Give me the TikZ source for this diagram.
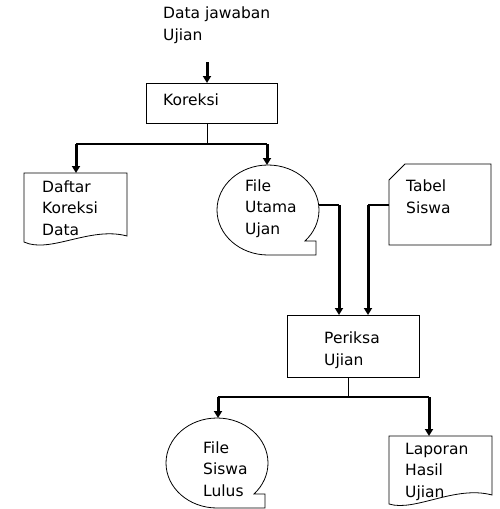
\documentclass[tikz,border=0pt]{standalone}
\usepackage{fontspec}
\setmainfont{DejaVu Sans}
\usetikzlibrary{arrows.meta}

\begin{document}
\begin{tikzpicture}[x=1pt,y=-1pt,
        lbl/.style={anchor=base west,align=left,inner sep=0pt,font=\fontsize{15.5}{21.5}\selectfont},
        procbox/.style={draw,line width=0.8pt,anchor=north west,inner sep=0pt},
        shp/.style={line width=0.8pt},
        link/.style={line width=1.3pt},
        flow/.style={-{Triangle[width=8pt,length=7pt]},line width=3pt}]
        \useasboundingbox (0,0) rectangle (500,509);

        % input (base = baris terakhir)
        \node[lbl] (dataTxt) at (163,40) {Data jawaban\\Ujian};

        % proses koreksi
        \node[procbox,minimum width=131pt,minimum height=40pt] (koreksi) at (146,83) {};
        \node[lbl] (koreksiTxt) at (163,105) {Koreksi};

        % dokumen daftar koreksi
        \draw[shp](24,173)--(127,173)--(127,236) .. controls (90,226) and (50,254) .. (24,242)--cycle;
        \coordinate (daftarTop) at (76,173);
        \node[lbl] (daftarTxt) at (42,235) {Daftar\\Koreksi\\Data};

        % file utama
        \draw[shp](268,255) arc[start angle=90,end angle=403.5,x radius=51,y radius=45]--(316,241)--(316,255)--cycle;
        \coordinate (utamaTop) at (267,165);
        \coordinate (utamaOut) at (319,205);
        \node[lbl] (utamaTxt) at (245,234) {File\\Utama\\Ujan};

        % tabel siswa
        \draw[shp](405,164)--(491,164)--(491,245)--(389,245)--(389,180)--cycle;
        \coordinate (tabelOut) at (389,205);
        \node[lbl] (tabelTxt) at (406,213) {Tabel\\Siswa};

        % proses periksa
        \node[procbox,minimum width=132pt,minimum height=62pt] (periksa) at (287,315) {};
        \node[lbl] (periksaTxt) at (324,365) {Periksa\\Ujian};

        % file siswa lulus
        \draw[shp](217,508) arc[start angle=90,end angle=403.5,x radius=51,y radius=45]--(265,494)--(265,508)--cycle;
        \coordinate (lulusTop) at (218,418);
        \node[lbl] (lulusTxt) at (203,496) {File\\Siswa\\Lulus};

        % laporan
        \draw[shp](389,436)--(492,436)--(492,495) .. controls (455,485) and (415,512) .. (389,504)--cycle;
        \coordinate (laporanTop) at (429,436);
        \node[lbl] (laporanTxt) at (405,497) {Laporan\\Hasil\\Ujian};

        % aliran
        \coordinate (dataIn) at (207,62);
        \draw[flow](dataIn)--(dataIn |- koreksi.north);
        \coordinate (kSplit) at (207,144);
        \draw[line width=1pt](kSplit |- koreksi.south)--(kSplit);
        \draw[link](kSplit -| daftarTop)--(kSplit -| utamaTop);
        \draw[flow](kSplit -| daftarTop)--(daftarTop);
        \draw[flow](kSplit -| utamaTop)--(utamaTop);

        \coordinate (pIn1) at (339,205);
        \coordinate (pIn2) at (368,205);
        \draw[link](utamaOut)--(pIn1);
        \draw[flow](pIn1)--(pIn1 |- periksa.north);
        \draw[link](tabelOut)--(pIn2);
        \draw[flow](pIn2)--(pIn2 |- periksa.north);

        \coordinate (pSplit) at (348,397);
        \draw[line width=1pt](pSplit |- periksa.south)--(pSplit);
        \draw[link](pSplit -| lulusTop)--(pSplit -| laporanTop);
        \draw[flow](pSplit -| lulusTop)--(lulusTop);
        \draw[flow](pSplit -| laporanTop)--(laporanTop);
    \end{tikzpicture}
\end{document}
